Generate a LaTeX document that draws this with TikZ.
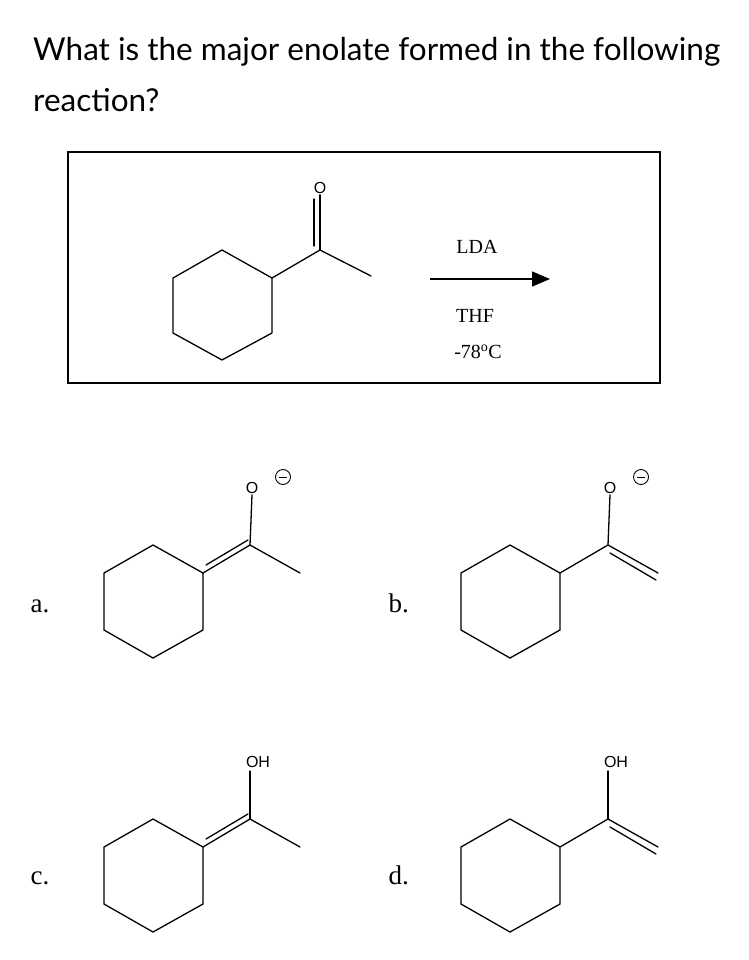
\documentclass[tikz,border=0pt]{standalone}
\usepackage{fontspec}
\usetikzlibrary{arrows.meta}
\setmainfont{Liberation Serif}
\newfontfamily\latofont{Lato}
\newfontfamily\arialfont{Liberation Sans}
\begin{document}
\begin{tikzpicture}[x=1pt,y=-1pt,
  bond/.style={line width=1.3pt,line cap=round},
  atom/.style={font=\arialfont\fontsize{16}{16}\selectfont,inner sep=1pt},
  lbl/.style={font=\fontsize{27}{27}\selectfont,anchor=base west},
  cond/.style={font=\fontsize{20}{20}\selectfont}]
\useasboundingbox (0,0) rectangle (748,960);
\node[anchor=base west,font=\latofont\fontsize{31.5}{31.5}\selectfont,inner sep=0pt] (t1) at (33,61) {What is the major enolate formed in the following};
\node[anchor=base west,font=\latofont\fontsize{31.5}{31.5}\selectfont,inner sep=0pt] (t2) at (33,112) {reaction?};
\draw[line width=1.5pt] (68,152) rectangle (660,383);
% reactant
\draw[bond] (173,278)--(222,250)--(272,278)--(272,333)--(222,360)--(173,333)--cycle;
\draw[bond] (272,278)--(320,250)--(371,276);
\node[atom] (o0) at (320,188) {O};
\draw[bond] (320,250)--(o0.south);
\draw[bond] (314,246)--(314,199);
\node[cond] (lda) at (477,247) {LDA};
\node[cond] (thf) at (475,316) {THF};
\node[cond] (tmp) at (478,352) {-78\textsuperscript{o}C};
\coordinate (a1) at (430,279); \coordinate (a2) at (550,279);
\draw[line width=1.3pt,-{Triangle[length=18pt,width=15pt]}] (a1)--(a2);
% a
\node[lbl] (la) at (27,612) {a.};
\draw[bond] (104,573)--(153,545)--(203,573)--(203,630)--(153,658)--(104,630)--cycle;
\draw[bond] (203,573)--(250,545)--(300,573);
\draw[bond] (206,565)--(248,540);
\node[atom] (oa) at (252,488) {O};
\draw[bond] (250,545)--(oa.south);
\draw[line width=0.9pt] (283,477) circle (7.5); \draw[line width=0.9pt] (279,477)--(287,477);
% b
\node[lbl] (lb) at (385,612) {b.};
\draw[bond] (461,573)--(510,545)--(560,573)--(560,630)--(510,658)--(461,630)--cycle;
\draw[bond] (560,573)--(608,545)--(658,573);
\draw[bond] (610,553)--(656,580);
\node[atom] (ob) at (610,488) {O};
\draw[bond] (608,545)--(ob.south);
\draw[line width=0.9pt] (641,477) circle (7.5); \draw[line width=0.9pt] (637,477)--(645,477);
% c
\node[lbl] (lc) at (27,884) {c.};
\draw[bond] (104,847)--(153,819)--(203,847)--(203,904)--(153,932)--(104,904)--cycle;
\draw[bond] (203,847)--(250,819)--(300,847);
\draw[bond] (206,839)--(248,814);
\node[atom] (oc) at (258,762) {OH};
\draw[bond] (250,819)--(250,771);
% d
\node[lbl] (ld) at (385,884) {d.};
\draw[bond] (461,847)--(510,819)--(560,847)--(560,904)--(510,932)--(461,904)--cycle;
\draw[bond] (560,847)--(608,819)--(658,847);
\draw[bond] (610,827)--(656,854);
\node[atom] (od) at (616,762) {OH};
\draw[bond] (608,819)--(608,771);
\end{tikzpicture}
\end{document}
